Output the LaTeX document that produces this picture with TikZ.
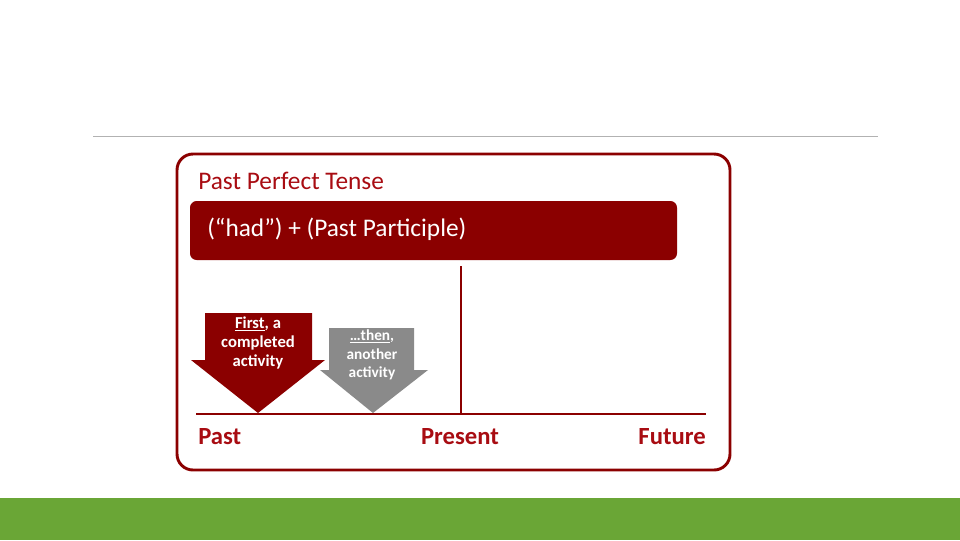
\documentclass[tikz,border=0pt]{standalone}
\usepackage{fontspec}
\setmainfont{Carlito}
\usepackage{xcolor}
\usetikzlibrary{positioning}
\definecolor{tenserouge}{HTML}{8B0000}
\definecolor{titrerouge}{HTML}{A80C12}
\definecolor{flechegris}{HTML}{8A8A8A}
\definecolor{basvert}{HTML}{6AA636}

\begin{document}
\begin{tikzpicture}[x=0.75pt, y=-0.75pt, every node/.style={inner sep=0pt}]

  \useasboundingbox (0,0) rectangle (960,540);

  % Ligne et bande
  \draw[gray!60, line width=0.6pt] (93,136) -- (878,136);
  \fill[basvert] (0,498) rectangle (960,540);

  % Cadre
  \draw[tenserouge, line width=2.2pt, rounded corners=12pt] (177,154) rectangle (730,470);
  \node[anchor=west, text=titrerouge, font=\fontsize{19}{22}\selectfont] (titre) at (198,181) {Past Perfect Tense};

  % Formule
  \fill[tenserouge, rounded corners=5pt] (190,201) rectangle (677,260);
  \node[anchor=west, text=white, font=\fontsize{19}{22}\selectfont] (formule) at (207,229) {(“had”) + (Past Participle)};

  % Axe du temps
  \draw[tenserouge, line width=2.2pt] (461,266) -- (461,414);
  \draw[tenserouge, line width=2.2pt] (196,414) -- (706,414);
  \node[anchor=west, text=titrerouge, font=\fontsize{18.5}{22}\selectfont\bfseries] (passe) at (198,437) {Past};
  \node[text=titrerouge, font=\fontsize{18.5}{22}\selectfont\bfseries] (present) at (460,437) {Present};
  \node[anchor=east, text=titrerouge, font=\fontsize{18.5}{22}\selectfont\bfseries] (futur) at (706,437) {Future};

  % Flèches
  \fill[tenserouge] (205,313) -- (312,313) -- (312,360) -- (325,360) -- (258,413)
    -- (191,360) -- (205,360) -- cycle;
  \node[text=white, align=center, font=\fontsize{12.5}{14.5}\selectfont\bfseries] (premier) at (258,343)
    {\underline{First}, a\\completed\\activity};
  \fill[flechegris] (329,328) -- (414,328) -- (414,370) -- (428,370) -- (373,413)
    -- (320,370) -- (329,370) -- cycle;
  \node[text=white, align=center, font=\fontsize{11.5}{14}\selectfont\bfseries] (ensuite) at (372,355)
    {\underline{…then},\\another\\activity};

\end{tikzpicture}
\end{document}
